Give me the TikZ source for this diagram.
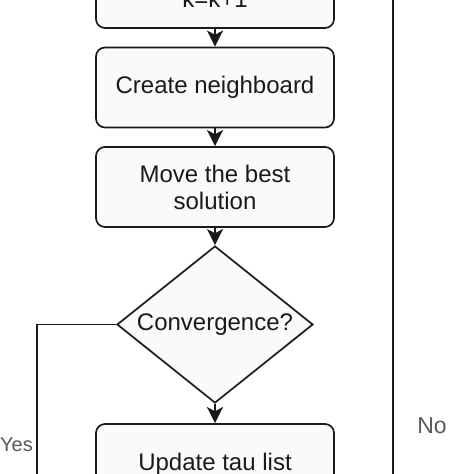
\documentclass[tikz,border=0pt]{standalone}
\usepackage{fontspec}
\setmainfont{Liberation Sans}
\usetikzlibrary{shapes.geometric,arrows.meta}
\definecolor{boxfill}{HTML}{FAFAFA}
\definecolor{linec}{HTML}{1A1A1A}
\definecolor{lblc}{HTML}{595959}
\tikzset{
  procbox/.style={draw=linec, fill=boxfill, line width=1.7pt, rounded corners=9pt,
    minimum width=238pt, minimum height=80pt, inner sep=0pt, align=center,
    font=\fontsize{24}{27}\selectfont, text=linec},
  decision/.style={draw=linec, fill=boxfill, line width=1.7pt, diamond, aspect=1.25,
    minimum width=196pt, minimum height=157pt, inner sep=0pt,
    font=\fontsize{24}{27}\selectfont, text=linec},
  flow/.style={draw=linec, line width=1.7pt, -{Stealth[length=16pt,width=16pt,inset=4pt]}},
  plainline/.style={draw=linec, line width=1.7pt},
  edgelabel/.style={font=\fontsize{23}{26}\selectfont, text=lblc, inner sep=0pt},
}
\begin{document}
\begin{tikzpicture}[x=1pt,y=-1pt]
\useasboundingbox (0,0) rectangle (474,474);
\node[procbox] (k) at (215,-12) {};
\node[font=\fontsize{24}{27}\selectfont, text=linec, anchor=base, inner sep=0pt] (ktext) at (215,7) {k=k+1};
\node[procbox] (cn) at (215,87.5) {Create neighboard};
\node[procbox] (mv) at (215,187) {Move the best\\solution};
\node[decision] (cv) at (215,324.5) {Convergence?};
\node[procbox] (up) at (215,464) {Update tau list};
\draw[flow] (k) -- (cn);
\draw[flow] (cn) -- (mv);
\draw[flow] (mv) -- (cv);
\draw[flow] (cv) -- (up);
\coordinate (yesend) at (37,480);
\draw[plainline] (cv.west) -| (yesend);
\coordinate (notop) at (393,-6);
\coordinate (nobot) at (393,480);
\draw[plainline] (notop) -- (nobot);
\node[edgelabel, font=\fontsize{20}{24}\selectfont, anchor=base west] (yes) at (0,451) {Yes};
\node[edgelabel, anchor=base] (no) at (432,433) {No};
\end{tikzpicture}
\end{document}
